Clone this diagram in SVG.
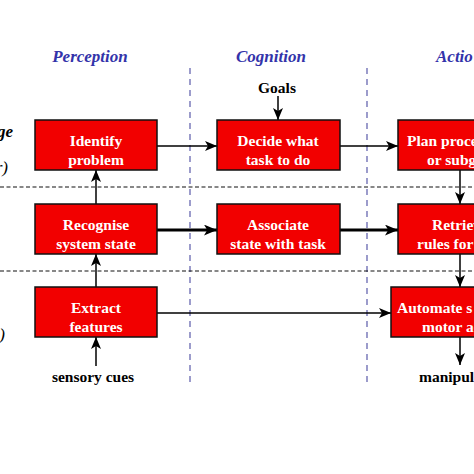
<svg xmlns="http://www.w3.org/2000/svg" width="474" height="474" viewBox="0 0 474 474">
<style>
.box{fill:#f20000;stroke:#111;stroke-width:1.5}
.bt{font-family:"Liberation Serif",serif;font-weight:bold;font-size:15.5px;fill:#fff;text-anchor:middle}
.lt{font-family:"Liberation Serif",serif;font-weight:bold;font-size:15.5px;fill:#000;text-anchor:middle}
.hd{font-family:"Liberation Serif",serif;font-weight:bold;font-style:italic;font-size:17px;fill:#3333aa;text-anchor:middle}
.sd{font-family:"Liberation Serif",serif;font-weight:bold;font-style:italic;font-size:17px;fill:#000;text-anchor:end}
.vd{stroke:#5a5aaa;stroke-width:1.2;stroke-dasharray:6 5;fill:none}
.hdash{stroke:#111;stroke-width:1.2;stroke-dasharray:4 2.5;fill:none}
.c{stroke:#000;stroke-width:1.5;fill:none;marker-end:url(#ah)}
.ct{stroke:#000;stroke-width:3;fill:none;marker-end:url(#ahb)}
</style>
<defs>
<marker id="ah" viewBox="0 0 12 10" refX="12" refY="5" markerWidth="12" markerHeight="10" markerUnits="userSpaceOnUse" orient="auto">
<path d="M0,0 L12,5 L0,10 L3,5 Z" fill="#000"/>
</marker>
<marker id="ahb" viewBox="0 0 12 10" refX="12" refY="5" markerWidth="13" markerHeight="11" markerUnits="userSpaceOnUse" orient="auto">
<path d="M0,0 L12,5 L0,10 L3,5 Z" fill="#000"/>
</marker>
</defs>
<rect width="474" height="474" fill="#fff"/>
<g id="background">
<line class="vd" x1="190" y1="68" x2="190" y2="382"/>
<line class="vd" x1="367" y1="68" x2="367" y2="382"/>
<line class="hdash" x1="0" y1="187" x2="474" y2="187"/>
<line class="hdash" x1="0" y1="271" x2="474" y2="271"/>
<text class="hd" x="90" y="62">Perception</text>
<text class="hd" x="271" y="62">Cognition</text>
<text class="hd" x="436" y="62" style="text-anchor:start">Actio</text>
<text class="sd" x="13" y="137">ge</text>
<text class="sd" x="8" y="173" style="font-weight:normal">r)</text>
<text class="sd" x="5" y="340" style="font-weight:normal">)</text>
</g>
<g id="connectors">
<line class="c" x1="157" y1="146" x2="217" y2="146"/>
<line class="c" x1="340" y1="146" x2="398" y2="146"/>
<line class="ct" x1="157" y1="230" x2="217" y2="230"/>
<line class="ct" x1="340" y1="230" x2="398" y2="230"/>
<line class="c" x1="157" y1="313" x2="391" y2="313"/>
<line class="c" x1="96" y1="204" x2="96" y2="170"/>
<line class="c" x1="96" y1="287" x2="96" y2="254"/>
<line class="c" x1="96" y1="366" x2="96" y2="337"/>
<line class="c" x1="278" y1="96" x2="278" y2="120"/>
<line class="c" x1="460" y1="170" x2="460" y2="204"/>
<line class="c" x1="460" y1="254" x2="460" y2="287"/>
<line class="c" x1="460" y1="337" x2="460" y2="365"/>
</g>
<g id="n-identify"><rect class="box" x="35" y="120" width="122" height="50"/><text class="bt" x="96" y="146">Identify</text><text class="bt" x="96" y="165">problem</text></g>
<g id="n-decide"><rect class="box" x="217" y="120" width="123" height="50"/><text class="bt" x="278" y="146">Decide what</text><text class="bt" x="278" y="165">task to do</text></g>
<g id="n-plan"><rect class="box" x="398" y="120" width="90" height="50"/><text class="bt" x="407" y="146" style="text-anchor:start">Plan proce</text><text class="bt" x="427" y="165" style="text-anchor:start">or subge</text></g>
<g id="n-recognise"><rect class="box" x="35" y="204" width="122" height="50"/><text class="bt" x="96" y="230">Recognise</text><text class="bt" x="96" y="249">system state</text></g>
<g id="n-associate"><rect class="box" x="217" y="204" width="123" height="50"/><text class="bt" x="278" y="230">Associate</text><text class="bt" x="278" y="249">state with task</text></g>
<g id="n-retrieve"><rect class="box" x="398" y="204" width="90" height="50"/><text class="bt" x="432" y="230" style="text-anchor:start">Retriev</text><text class="bt" x="417" y="249" style="text-anchor:start">rules for t</text></g>
<g id="n-extract"><rect class="box" x="35" y="287" width="122" height="50"/><text class="bt" x="96" y="313">Extract</text><text class="bt" x="96" y="332">features</text></g>
<g id="n-automate"><rect class="box" x="391" y="287" width="95" height="50"/><text class="bt" x="397" y="313" style="text-anchor:start">Automate s</text><text class="bt" x="422" y="332" style="text-anchor:start">motor ac</text></g>
<g id="labels">
<text class="lt" x="277" y="93">Goals</text>
<text class="lt" x="93" y="382">sensory cues</text>
<text class="lt" x="419" y="382" style="text-anchor:start">manipul</text>
</g>
</svg>
